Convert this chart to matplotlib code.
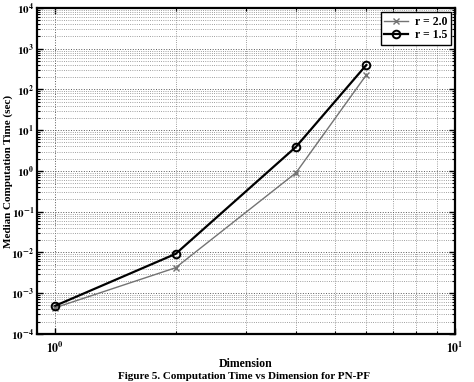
import numpy as np
import matplotlib
matplotlib.use('Agg')
import matplotlib.pyplot as plt
from matplotlib.ticker import LogLocator, FixedLocator

plt.rcParams['font.family'] = ['Liberation Serif', 'DejaVu Serif']
plt.rcParams['mathtext.fontset'] = 'stix'

# Data
dimension = [1, 2, 4, 6]
time_r20 = [4.4e-4, 4.2e-3, 0.9, 228]
time_r15 = [4.9e-4, 9.2e-3, 3.9, 400]

fig = plt.figure(figsize=(4.74, 3.82), dpi=100)
ax = fig.add_axes([0.078, 0.126, 0.882, 0.853])

ax.plot(dimension, time_r20, color='0.45', lw=1.0, marker='x', ms=4,
        mew=1.0, label='r = 2.0')
ax.plot(dimension, time_r15, color='k', lw=1.6, marker='o', ms=5.5,
        mfc='none', mew=1.4, label='r = 1.5')

ax.set_xscale('log')
ax.set_yscale('log')
ax.set_xlim(0.9, 10)
ax.set_ylim(1e-4, 1e4)

ax.xaxis.set_major_locator(FixedLocator([1, 10]))
ax.yaxis.set_major_locator(LogLocator(base=10, numticks=20))
ax.yaxis.set_minor_locator(LogLocator(base=10, subs=np.arange(2, 10), numticks=20))
ax.xaxis.set_minor_locator(LogLocator(base=10, subs=np.arange(2, 10), numticks=20))

ax.set_xticklabels([r'$\mathbf{10^{0}}$', r'$\mathbf{10^{1}}$'])
yt = [10.0 ** k for k in range(-4, 5)]
ax.set_yticks(yt)
ax.set_yticklabels([r'$\mathbf{10^{%d}}$' % k for k in range(-4, 5)])
ax.tick_params(which='both', direction='in', top=True, right=True,
               labelsize=8)
ax.tick_params(axis='x', labelsize=8.5, pad=5)
ax.tick_params(which='major', length=4, width=1)
ax.tick_params(which='minor', length=2, width=0.8)
ax.tick_params(axis='y', pad=2)

ax.grid(which='major', linestyle=':', color='0.35', lw=0.7)
ax.grid(which='minor', linestyle=':', color='0.5', lw=0.6)

for s in ax.spines.values():
    s.set_linewidth(1.6)

ax.set_xlabel('Dimension', fontsize=8.5, fontweight='bold')
ax.xaxis.set_label_coords(0.5, -0.075)
ax.set_ylabel('Median Computation Time (sec)', fontsize=8, fontweight='bold')
ax.yaxis.set_label_coords(-0.057, 0.5)

leg = ax.legend(loc='upper right', prop={'weight': 'bold', 'size': 8.5},
                fancybox=False, edgecolor='k', framealpha=1,
                handlelength=2.0, borderaxespad=0.35, labelspacing=0.15,
                borderpad=0.3, handletextpad=0.6)
leg.get_frame().set_linewidth(1.0)

fig.text(0.515, 0.003, 'Figure 5. Computation Time vs Dimension for PN-PF',
         ha='center', va='bottom', fontsize=8, fontweight='bold')

fig.savefig('out.png', dpi=100)
